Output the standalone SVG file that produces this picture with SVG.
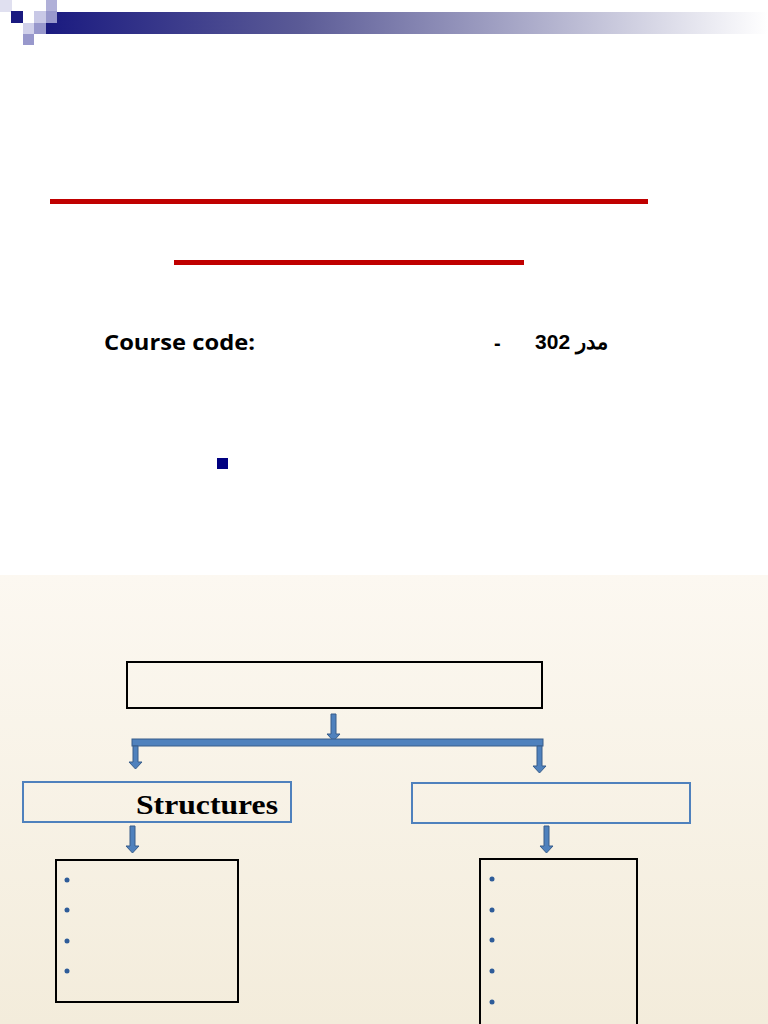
<svg xmlns="http://www.w3.org/2000/svg" width="768" height="1024" viewBox="0 0 768 1024">
<defs>
<linearGradient id="bar" x1="0" x2="1" y1="0" y2="0">
<stop offset="0" stop-color="#1a1a80"/><stop offset="0.35" stop-color="#5a5a96"/><stop offset="1" stop-color="#ffffff"/>
</linearGradient>
<linearGradient id="bg" x1="0" x2="0" y1="0" y2="1">
<stop offset="0" stop-color="#fcf8f1"/><stop offset="1" stop-color="#f3ecdb"/>
</linearGradient>
<style>
.box{fill:none;stroke:#000;stroke-width:2}
.bbox{fill:none;stroke:#4f81bd;stroke-width:2}
.arr{fill:#4f81bd;stroke:#385d8a;stroke-width:1}
.dot{fill:#2e5c99}
</style>
</defs>
<rect width="768" height="1024" fill="#fff"/>
<rect x="45" y="12" width="723" height="22" fill="url(#bar)"/>
<rect x="0" y="0" width="12" height="12" fill="#e0e0f0"/>
<rect x="46" y="0" width="11" height="11" fill="#b0b0d8"/>
<rect x="34" y="11" width="12" height="12" fill="#c8c8e6"/>
<rect x="46" y="11" width="11" height="12" fill="#9898cc"/>
<rect x="11" y="11" width="12" height="12" fill="#1a1a80"/>
<rect x="34" y="23" width="12" height="11" fill="#9898cc"/>
<rect x="23" y="23" width="11" height="11" fill="#d0d0ea"/>
<rect x="23" y="34" width="11" height="11" fill="#9898cc"/>
<rect x="50" y="199" width="598" height="5" fill="#c00000"/>
<rect x="174" y="260" width="350" height="5" fill="#c00000"/>
<text x="104" y="350" font-family="Open Sans, sans-serif" font-weight="bold" font-size="22" textLength="151" lengthAdjust="spacingAndGlyphs">Course code:</text>
<text x="494" y="350" font-family="Liberation Sans, sans-serif" font-weight="bold" font-size="20">-</text>
<text x="608" y="349" font-family="Liberation Sans, Noto Sans, sans-serif" font-weight="bold" font-size="21" text-anchor="end">مدر 302</text>
<rect x="217" y="458" width="11" height="11" fill="#000080"/>
<rect x="0" y="575" width="768" height="449" fill="url(#bg)"/>
<g id="root"><rect class="box" x="127" y="662" width="415" height="46"/></g>
<g id="connectors">
<path class="arr" d="M331,714 h5 v20 h4 l-6.5,7 l-6.5,-7 h4 z"/>
<rect class="arr" x="132" y="739" width="411" height="7"/>
<path class="arr" d="M133,746 h5 v16 h4 l-6.5,7 l-6.5,-7 h4 z"/>
<path class="arr" d="M537,746 h5 v20 h4 l-6.5,7 l-6.5,-7 h4 z"/>
<path class="arr" d="M130,826 h5 v20 h4 l-6.5,7 l-6.5,-7 h4 z"/>
<path class="arr" d="M544,826 h5 v20 h4 l-6.5,7 l-6.5,-7 h4 z"/>
</g>
<g id="structures"><rect class="bbox" x="23" y="782" width="268" height="40"/>
<text x="136" y="814" font-family="Liberation Serif, serif" font-weight="bold" font-size="27" textLength="142" lengthAdjust="spacingAndGlyphs">Structures</text></g>
<g id="right"><rect class="bbox" x="412" y="783" width="278" height="40"/></g>
<g id="list1"><rect class="box" x="56" y="860" width="182" height="142"/>
<circle class="dot" cx="67" cy="880" r="2.5"/><circle class="dot" cx="67" cy="910" r="2.5"/><circle class="dot" cx="67" cy="941" r="2.5"/><circle class="dot" cx="67" cy="971" r="2.5"/></g>
<g id="list2"><rect class="box" x="480" y="859" width="157" height="170"/>
<circle class="dot" cx="492" cy="879" r="2.5"/><circle class="dot" cx="492" cy="910" r="2.5"/><circle class="dot" cx="492" cy="940" r="2.5"/><circle class="dot" cx="492" cy="971" r="2.5"/><circle class="dot" cx="492" cy="1002" r="2.5"/></g>
</svg>
